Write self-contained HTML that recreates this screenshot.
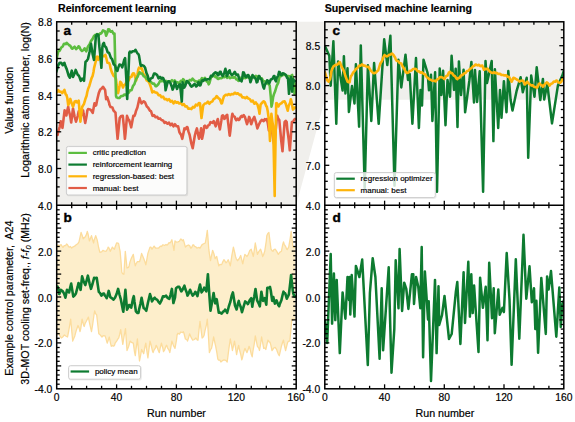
<!DOCTYPE html><html><head><meta charset="utf-8"><style>html,body{margin:0;padding:0;background:#fff;}svg{display:block;}text{font-family:"Liberation Sans",sans-serif;fill:#000;stroke:#000;stroke-width:0.18px;}</style></head><body>
<svg width="575" height="422" viewBox="0 0 575 422">
<defs>
<clipPath id="ca"><rect x="56.7" y="21.8" width="239.5" height="183.39999999999998"/></clipPath>
<clipPath id="cb"><rect x="56.7" y="205.2" width="239.5" height="183.60000000000002"/></clipPath>
<clipPath id="cc"><rect x="324.8" y="21.8" width="238.99999999999994" height="183.39999999999998"/></clipPath>
<clipPath id="cd"><rect x="324.8" y="205.2" width="238.99999999999994" height="183.60000000000002"/></clipPath>
</defs>
<polygon points="56.7,21.8 563.8,21.8 563.8,99.8 324.8,99.8 296.2,205.2 56.7,205.2" fill="#f0efec"/>
<g clip-path="url(#cb)"><polygon points="55.0,246.1 57.1,246.1 58.2,245.1 59.7,245.9 60.2,245.0 61.2,244.7 62.7,247.3 63.3,247.1 64.2,245.6 65.7,245.5 66.5,244.0 67.2,244.3 68.7,246.9 69.6,247.1 70.2,246.4 71.7,248.0 72.7,247.1 74.7,246.2 75.9,245.0 77.7,243.8 79.0,241.9 81.1,232.5 82.1,235.3 83.2,238.8 85.3,236.7 86.6,234.1 87.3,231.5 88.1,234.2 89.4,240.9 91.5,235.7 92.6,239.8 93.6,243.0 94.1,240.2 95.7,235.7 97.1,239.6 97.8,243.0 98.6,247.5 99.9,252.3 101.6,251.9 103.0,250.3 104.6,251.2 106.1,251.3 107.6,248.7 108.2,247.1 109.1,248.2 110.3,251.3 112.4,247.1 113.6,248.7 114.5,249.2 115.1,247.0 116.6,243.0 118.1,243.2 118.7,244.0 119.6,248.9 120.1,251.3 121.1,262.6 121.8,272.2 122.6,273.6 123.9,274.3 125.3,251.3 127.0,268.0 128.6,267.3 129.1,265.9 130.0,261.9 131.2,258.6 133.3,254.4 134.5,262.2 135.3,265.9 136.0,263.9 137.4,261.7 139.5,261.7 140.5,258.5 141.6,253.4 143.7,258.6 145.0,262.0 145.8,264.9 146.5,261.3 147.9,253.4 150.0,247.1 151.0,247.2 152.0,249.2 154.1,246.1 155.5,248.0 157.3,248.2 158.5,248.2 160.4,246.1 161.5,246.5 163.0,244.7 163.5,245.0 164.5,245.5 166.0,244.5 166.7,245.0 167.5,244.8 169.0,242.7 169.8,243.0 170.5,242.5 171.9,239.8 174.0,250.3 175.0,240.9 176.5,242.2 178.1,241.9 179.4,241.2 180.2,239.8 180.9,238.9 182.4,240.7 183.3,239.8 183.9,241.6 185.4,247.1 186.9,245.7 188.6,245.0 189.9,246.1 190.7,248.2 191.4,248.0 192.9,244.9 193.8,245.0 194.4,246.3 195.9,246.8 196.9,248.2 198.9,247.4 200.0,248.2 201.9,244.9 203.2,244.0 205.3,243.0 206.4,236.7 207.3,230.4 207.9,237.0 208.8,249.2 209.4,253.7 210.5,260.7 212.6,250.3 213.9,253.7 215.1,258.6 216.7,256.5 218.8,265.9 219.9,264.4 221.4,264.6 222.0,263.8 222.9,261.6 224.0,259.7 226.1,262.8 227.3,261.3 228.2,259.7 228.8,261.2 230.3,265.9 231.8,255.9 233.4,247.1 234.8,253.0 235.5,256.5 236.3,258.8 237.6,260.7 239.3,258.5 240.7,255.5 242.3,262.2 242.8,263.8 243.8,258.6 244.9,254.4 247.0,256.5 248.3,254.3 249.1,252.3 249.8,250.5 251.2,249.2 253.3,256.5 254.3,250.2 255.3,243.0 257.4,254.4 258.8,251.6 260.6,249.2 261.8,253.0 262.7,256.5 263.3,255.5 264.7,251.3 266.3,240.8 266.8,235.7 267.8,233.4 268.9,232.5 271.0,249.2 272.3,251.0 273.1,251.3 273.8,249.7 275.2,249.2 276.7,251.4 278.3,254.4 279.7,252.4 281.4,251.3 282.7,244.6 283.5,241.9 284.2,244.3 285.7,246.7 286.7,249.2 287.2,249.6 288.7,247.1 290.2,238.3 291.2,231.5 292.9,247.1 295.0,247.1 295.0,319.2 293.2,319.7 291.9,319.2 289.8,341.1 288.7,341.1 287.7,342.2 285.6,350.5 284.2,344.5 283.5,340.1 282.7,342.0 281.4,346.3 279.3,355.7 278.2,353.8 277.3,351.6 276.7,349.6 275.2,347.4 273.8,348.0 272.0,350.5 270.8,344.9 270.0,342.2 269.3,342.0 267.9,340.1 265.8,349.5 264.8,348.0 263.7,348.4 261.6,337.0 260.3,346.0 259.5,350.5 258.8,348.1 257.4,346.3 255.3,335.9 254.3,343.6 252.8,352.0 252.2,356.8 251.3,354.3 249.8,348.2 249.1,346.3 248.3,349.1 247.0,352.6 244.9,348.4 243.8,351.8 242.3,358.3 241.8,359.9 240.8,354.7 239.3,349.0 238.7,345.3 237.8,348.5 236.6,354.7 234.5,341.1 233.3,346.6 232.4,350.5 231.8,346.7 230.3,339.0 228.8,349.3 227.2,362.0 225.8,360.4 224.0,359.9 222.9,360.3 220.9,362.0 219.9,360.1 218.4,360.0 217.8,358.9 216.9,352.8 215.7,346.3 213.6,337.0 212.4,344.2 211.5,348.4 210.9,349.1 209.4,352.6 207.9,327.2 207.3,319.2 206.4,324.9 204.9,331.2 204.2,334.9 203.4,336.8 202.1,338.0 200.0,321.3 198.9,330.7 198.0,340.1 197.4,340.2 195.9,338.0 194.4,339.5 192.7,340.1 191.4,337.9 189.6,333.8 188.4,338.3 187.5,341.1 186.9,339.8 185.4,339.0 183.9,333.0 183.3,331.7 182.4,332.6 180.9,332.0 180.2,332.8 179.4,334.1 177.9,333.3 177.1,334.9 176.5,340.0 175.0,348.4 173.5,345.6 171.9,341.1 170.5,349.2 169.8,352.6 169.0,350.1 167.5,347.8 166.7,345.3 166.0,345.9 164.5,350.2 163.5,351.6 163.0,348.8 161.4,343.2 160.0,348.9 159.3,352.6 158.5,351.0 157.0,346.8 156.2,345.3 155.5,347.8 154.0,350.1 153.1,352.6 152.5,351.2 151.0,344.5 150.0,341.1 147.9,357.8 146.5,348.7 145.8,343.2 145.0,346.4 143.7,353.7 141.6,349.5 140.5,355.8 139.5,361.0 137.4,339.0 136.0,349.3 135.3,355.7 134.5,351.9 133.3,343.2 131.5,342.4 130.1,341.1 128.6,346.5 127.0,350.5 125.5,328.6 124.1,336.2 122.8,344.3 120.7,329.7 119.6,334.7 118.7,338.0 118.1,338.6 116.6,341.1 115.1,343.2 114.5,345.3 113.6,346.2 112.1,345.6 111.3,346.3 110.6,343.7 109.3,337.0 107.2,343.2 106.1,339.1 105.1,335.9 103.1,335.7 102.0,337.0 100.1,334.8 98.8,333.8 96.7,315.0 95.6,313.7 94.7,310.9 94.1,314.0 92.6,325.0 91.5,331.7 89.6,323.3 88.4,317.1 86.3,321.3 85.1,323.4 84.2,326.5 83.6,325.2 82.1,319.2 80.7,328.8 80.0,331.7 79.2,328.3 78.0,325.5 76.2,330.6 74.8,335.9 72.7,341.1 71.7,330.4 70.7,319.2 68.7,331.0 67.5,337.0 65.7,336.0 64.4,334.9 62.7,337.0 61.3,338.0 59.7,335.6 59.2,333.8 58.2,333.4 56.7,335.3 56.0,334.9 55.0,334.9" fill="#fdeecb" stroke="none"/>
<polyline points="55.0,246.1 57.1,246.1 58.2,245.1 59.7,245.9 60.2,245.0 61.2,244.7 62.7,247.3 63.3,247.1 64.2,245.6 65.7,245.5 66.5,244.0 67.2,244.3 68.7,246.9 69.6,247.1 70.2,246.4 71.7,248.0 72.7,247.1 74.7,246.2 75.9,245.0 77.7,243.8 79.0,241.9 81.1,232.5 82.1,235.3 83.2,238.8 85.3,236.7 86.6,234.1 87.3,231.5 88.1,234.2 89.4,240.9 91.5,235.7 92.6,239.8 93.6,243.0 94.1,240.2 95.7,235.7 97.1,239.6 97.8,243.0 98.6,247.5 99.9,252.3 101.6,251.9 103.0,250.3 104.6,251.2 106.1,251.3 107.6,248.7 108.2,247.1 109.1,248.2 110.3,251.3 112.4,247.1 113.6,248.7 114.5,249.2 115.1,247.0 116.6,243.0 118.1,243.2 118.7,244.0 119.6,248.9 120.1,251.3 121.1,262.6 121.8,272.2 122.6,273.6 123.9,274.3 125.3,251.3 127.0,268.0 128.6,267.3 129.1,265.9 130.0,261.9 131.2,258.6 133.3,254.4 134.5,262.2 135.3,265.9 136.0,263.9 137.4,261.7 139.5,261.7 140.5,258.5 141.6,253.4 143.7,258.6 145.0,262.0 145.8,264.9 146.5,261.3 147.9,253.4 150.0,247.1 151.0,247.2 152.0,249.2 154.1,246.1 155.5,248.0 157.3,248.2 158.5,248.2 160.4,246.1 161.5,246.5 163.0,244.7 163.5,245.0 164.5,245.5 166.0,244.5 166.7,245.0 167.5,244.8 169.0,242.7 169.8,243.0 170.5,242.5 171.9,239.8 174.0,250.3 175.0,240.9 176.5,242.2 178.1,241.9 179.4,241.2 180.2,239.8 180.9,238.9 182.4,240.7 183.3,239.8 183.9,241.6 185.4,247.1 186.9,245.7 188.6,245.0 189.9,246.1 190.7,248.2 191.4,248.0 192.9,244.9 193.8,245.0 194.4,246.3 195.9,246.8 196.9,248.2 198.9,247.4 200.0,248.2 201.9,244.9 203.2,244.0 205.3,243.0 206.4,236.7 207.3,230.4 207.9,237.0 208.8,249.2 209.4,253.7 210.5,260.7 212.6,250.3 213.9,253.7 215.1,258.6 216.7,256.5 218.8,265.9 219.9,264.4 221.4,264.6 222.0,263.8 222.9,261.6 224.0,259.7 226.1,262.8 227.3,261.3 228.2,259.7 228.8,261.2 230.3,265.9 231.8,255.9 233.4,247.1 234.8,253.0 235.5,256.5 236.3,258.8 237.6,260.7 239.3,258.5 240.7,255.5 242.3,262.2 242.8,263.8 243.8,258.6 244.9,254.4 247.0,256.5 248.3,254.3 249.1,252.3 249.8,250.5 251.2,249.2 253.3,256.5 254.3,250.2 255.3,243.0 257.4,254.4 258.8,251.6 260.6,249.2 261.8,253.0 262.7,256.5 263.3,255.5 264.7,251.3 266.3,240.8 266.8,235.7 267.8,233.4 268.9,232.5 271.0,249.2 272.3,251.0 273.1,251.3 273.8,249.7 275.2,249.2 276.7,251.4 278.3,254.4 279.7,252.4 281.4,251.3 282.7,244.6 283.5,241.9 284.2,244.3 285.7,246.7 286.7,249.2 287.2,249.6 288.7,247.1 290.2,238.3 291.2,231.5 292.9,247.1 295.0,247.1" fill="none" stroke="#fcdc9c" stroke-width="1.3" stroke-linejoin="round" stroke-linecap="round" />
<polyline points="55.0,334.9 56.0,334.9 56.7,335.3 58.2,333.4 59.2,333.8 59.7,335.6 61.3,338.0 62.7,337.0 64.4,334.9 65.7,336.0 67.5,337.0 68.7,331.0 70.7,319.2 71.7,330.4 72.7,341.1 74.8,335.9 76.2,330.6 78.0,325.5 79.2,328.3 80.0,331.7 80.7,328.8 82.1,319.2 83.6,325.2 84.2,326.5 85.1,323.4 86.3,321.3 88.4,317.1 89.6,323.3 91.5,331.7 92.6,325.0 94.1,314.0 94.7,310.9 95.6,313.7 96.7,315.0 98.8,333.8 100.1,334.8 102.0,337.0 103.1,335.7 105.1,335.9 106.1,339.1 107.2,343.2 109.3,337.0 110.6,343.7 111.3,346.3 112.1,345.6 113.6,346.2 114.5,345.3 115.1,343.2 116.6,341.1 118.1,338.6 118.7,338.0 119.6,334.7 120.7,329.7 122.8,344.3 124.1,336.2 125.5,328.6 127.0,350.5 128.6,346.5 130.1,341.1 131.5,342.4 133.3,343.2 134.5,351.9 135.3,355.7 136.0,349.3 137.4,339.0 139.5,361.0 140.5,355.8 141.6,349.5 143.7,353.7 145.0,346.4 145.8,343.2 146.5,348.7 147.9,357.8 150.0,341.1 151.0,344.5 152.5,351.2 153.1,352.6 154.0,350.1 155.5,347.8 156.2,345.3 157.0,346.8 158.5,351.0 159.3,352.6 160.0,348.9 161.4,343.2 163.0,348.8 163.5,351.6 164.5,350.2 166.0,345.9 166.7,345.3 167.5,347.8 169.0,350.1 169.8,352.6 170.5,349.2 171.9,341.1 173.5,345.6 175.0,348.4 176.5,340.0 177.1,334.9 177.9,333.3 179.4,334.1 180.2,332.8 180.9,332.0 182.4,332.6 183.3,331.7 183.9,333.0 185.4,339.0 186.9,339.8 187.5,341.1 188.4,338.3 189.6,333.8 191.4,337.9 192.7,340.1 194.4,339.5 195.9,338.0 197.4,340.2 198.0,340.1 198.9,330.7 200.0,321.3 202.1,338.0 203.4,336.8 204.2,334.9 204.9,331.2 206.4,324.9 207.3,319.2 207.9,327.2 209.4,352.6 210.9,349.1 211.5,348.4 212.4,344.2 213.6,337.0 215.7,346.3 216.9,352.8 217.8,358.9 218.4,360.0 219.9,360.1 220.9,362.0 222.9,360.3 224.0,359.9 225.8,360.4 227.2,362.0 228.8,349.3 230.3,339.0 231.8,346.7 232.4,350.5 233.3,346.6 234.5,341.1 236.6,354.7 237.8,348.5 238.7,345.3 239.3,349.0 240.8,354.7 241.8,359.9 242.3,358.3 243.8,351.8 244.9,348.4 247.0,352.6 248.3,349.1 249.1,346.3 249.8,348.2 251.3,354.3 252.2,356.8 252.8,352.0 254.3,343.6 255.3,335.9 257.4,346.3 258.8,348.1 259.5,350.5 260.3,346.0 261.6,337.0 263.7,348.4 264.8,348.0 265.8,349.5 267.9,340.1 269.3,342.0 270.0,342.2 270.8,344.9 272.0,350.5 273.8,348.0 275.2,347.4 276.7,349.6 277.3,351.6 278.2,353.8 279.3,355.7 281.4,346.3 282.7,342.0 283.5,340.1 284.2,344.5 285.6,350.5 287.7,342.2 288.7,341.1 289.8,341.1 291.9,319.2 293.2,319.7 295.0,319.2" fill="none" stroke="#fcdc9c" stroke-width="1.3" stroke-linejoin="round" stroke-linecap="round" />
<polyline points="55.0,289.8 56.7,288.2 57.6,286.7 58.2,288.8 59.2,294.0 59.7,293.2 60.7,289.8 62.8,291.4 64.2,293.9 65.4,297.7 67.0,289.8 69.1,292.4 70.2,287.5 71.2,283.6 73.3,296.6 74.7,295.3 75.9,293.5 77.7,286.7 78.5,283.0 79.2,284.9 80.6,289.8 82.1,276.3 83.6,281.2 85.3,285.1 86.6,280.5 87.9,275.7 89.6,283.6 91.0,288.8 92.6,283.5 94.1,277.8 95.6,278.2 96.7,277.8 98.8,291.9 100.1,293.2 101.4,295.6 103.1,293.5 104.0,293.5 104.6,295.1 106.1,296.9 106.7,298.2 107.6,295.3 108.7,290.9 110.3,297.1 112.1,298.3 113.4,299.7 115.0,297.7 116.6,294.0 118.1,288.9 119.6,295.0 120.7,298.8 122.6,308.6 123.3,311.8 124.1,303.6 125.4,289.9 127.0,309.7 128.6,306.9 129.1,305.0 130.0,305.5 131.2,307.7 133.0,298.7 133.8,296.2 134.5,302.0 135.9,311.3 137.5,313.0 138.5,312.9 139.0,309.7 140.5,303.6 141.6,297.7 143.7,308.2 145.0,308.9 146.3,310.8 148.0,302.5 150.0,294.1 151.0,297.3 152.0,301.4 154.0,298.2 154.7,297.7 155.5,298.8 157.3,299.8 158.5,301.9 159.9,303.5 161.5,300.4 163.0,296.2 164.5,296.6 166.1,295.7 167.5,297.8 169.3,298.8 170.5,294.8 171.9,288.9 173.4,303.0 175.0,297.7 176.0,288.3 177.9,286.8 179.2,286.7 181.3,291.4 182.4,289.9 184.4,285.7 185.4,289.3 186.9,293.1 187.5,295.6 188.4,294.1 190.1,289.8 191.4,293.0 192.7,295.6 194.4,293.6 195.3,291.9 195.9,292.5 197.4,296.1 198.9,289.2 200.0,284.6 201.6,292.4 203.4,289.7 204.2,287.7 204.9,288.3 206.3,291.4 207.9,274.2 209.4,295.8 210.5,310.7 212.4,300.2 213.6,293.0 215.2,303.4 216.7,299.2 218.8,312.8 219.9,312.4 221.4,313.6 222.0,313.3 222.9,311.9 224.4,310.9 225.1,309.7 225.8,310.4 227.2,312.8 228.8,306.5 229.8,303.4 230.3,302.0 231.8,295.4 232.9,292.4 235.0,305.5 236.6,309.5 237.8,304.2 238.8,300.9 239.3,303.4 240.8,307.3 242.0,312.2 243.8,305.9 245.2,301.4 246.8,302.7 247.9,304.1 249.8,300.0 251.2,298.2 252.3,306.8 252.8,303.1 254.3,296.2 255.5,289.0 257.1,300.3 258.8,303.7 259.8,306.3 261.4,291.7 263.0,300.9 264.7,298.2 266.3,304.7 267.3,287.9 269.3,287.6 270.0,286.9 270.8,290.8 272.2,300.9 273.3,297.1 274.9,303.6 276.5,300.3 278.2,304.9 279.2,306.3 279.7,304.1 281.4,300.3 282.7,294.5 283.5,291.7 284.2,293.1 285.1,293.3 285.7,294.8 286.8,298.7 288.9,294.4 290.2,283.3 291.1,275.0 291.7,280.7 292.7,290.1 293.2,293.0 294.3,296.6 296.2,296.4 297.0,295.5" fill="none" stroke="#0d7b30" stroke-width="2.6" stroke-linejoin="round" stroke-linecap="round" /></g>
<g clip-path="url(#ca)">
<polyline points="57.6,135.0 58.2,131.9 59.7,126.8 60.7,121.2 62.5,127.8 64.6,110.3 65.7,114.4 66.4,115.5 67.2,110.7 68.2,106.8 68.7,110.1 70.2,116.0 71.2,122.5 73.0,108.5 74.7,117.0 76.0,121.7 77.7,116.1 78.7,111.2 80.7,115.4 81.3,115.5 82.1,112.4 83.1,110.3 83.6,114.1 85.2,123.0 86.6,115.7 87.4,110.3 88.1,109.0 90.1,109.4 91.1,110.3 92.7,112.9 94.5,103.3 95.6,105.6 96.2,105.0 97.1,100.2 98.8,93.0 100.1,89.8 100.9,88.9 101.6,88.6 103.0,86.8 105.1,89.9 106.1,99.2 107.2,97.2 109.3,103.5 109.3,104.4 110.6,107.1 112.4,107.5 113.6,110.7 115.5,112.7 116.6,127.2 117.6,138.8 119.7,118.0 121.1,116.0 122.8,115.9 124.1,129.0 124.9,138.8 125.6,132.5 127.0,115.9 128.6,119.9 129.1,120.0 130.0,122.9 131.2,127.3 133.3,115.9 134.5,115.9 135.3,113.8 136.0,110.9 137.4,107.5 139.5,98.1 140.5,101.2 141.6,103.3 143.7,101.3 145.0,102.2 146.8,106.5 148.0,107.5 150.0,110.7 151.0,111.1 152.5,115.8 153.1,115.9 154.0,115.1 155.5,117.2 157.3,116.9 158.5,118.7 160.0,118.4 161.4,120.0 163.0,120.4 164.5,122.8 165.6,122.1 167.5,123.7 169.0,122.6 169.8,124.2 170.5,125.1 172.0,123.6 172.9,125.3 173.5,126.3 175.0,124.2 176.5,126.3 178.1,126.3 179.4,132.1 180.2,133.6 180.9,134.4 182.3,138.8 184.4,128.4 185.4,129.2 186.9,127.0 187.5,127.3 188.4,131.4 189.6,134.7 191.4,143.7 192.7,148.2 194.8,135.7 195.9,131.3 196.9,128.4 199.0,138.8 200.4,133.1 201.1,128.4 202.1,138.8 203.4,132.5 204.2,126.3 204.9,125.7 206.4,127.8 207.3,127.3 207.9,125.6 209.4,124.8 210.5,122.1 212.4,122.9 213.6,121.1 215.7,126.3 216.9,121.4 217.8,119.0 218.4,122.4 219.9,129.4 221.4,120.3 222.0,115.9 222.9,115.3 224.4,118.9 225.1,118.0 225.8,115.9 227.2,114.8 228.8,127.8 229.7,135.7 230.3,131.3 231.8,117.1 232.4,113.8 233.3,116.0 234.8,116.8 235.5,119.0 236.3,120.2 237.8,118.7 238.7,120.0 239.3,119.7 240.8,116.6 241.8,115.9 242.3,116.8 243.8,115.2 244.9,116.9 247.0,124.2 248.3,120.4 249.1,116.9 249.8,118.4 251.2,124.2 252.8,119.7 254.3,116.9 255.8,121.8 257.4,128.4 258.8,124.8 260.6,121.1 261.8,119.9 263.7,121.1 264.8,119.2 266.3,120.2 266.8,119.0 267.8,123.1 268.9,130.5 270.8,130.0 272.0,131.5 274.1,144.0 275.2,135.3 276.7,119.2 277.3,115.9 278.2,118.6 279.3,120.0 281.2,140.3 282.5,151.3 284.6,122.1 285.7,120.8 286.7,122.1 287.2,128.3 288.7,139.5 289.8,150.3 291.9,122.1 293.2,121.7 294.0,120.0 295.0,119.0" fill="none" stroke="#e15c46" stroke-width="2.6" stroke-linejoin="round" stroke-linecap="round" />
<polyline points="55.0,93.0 57.1,92.0 58.2,90.2 59.2,91.0 59.7,91.8 61.2,91.9 62.3,93.0 64.4,89.9 65.7,94.4 66.5,95.1 67.3,98.0 68.2,105.0 68.7,104.1 70.3,98.9 71.7,103.4 73.0,106.8 74.7,101.5 76.2,101.1 76.9,102.4 77.7,102.4 78.7,100.6 80.4,121.7 82.2,106.8 83.9,104.1 85.3,99.3 86.6,95.7 87.3,92.0 88.1,89.0 89.4,85.7 91.5,78.4 92.6,76.0 93.5,72.0 94.1,67.9 95.6,62.0 96.4,56.9 97.1,56.6 98.4,59.9 100.1,55.5 100.9,54.9 101.6,56.4 103.4,55.9 104.6,56.3 105.4,54.9 106.1,57.2 107.4,62.8 109.1,63.0 109.9,64.8 110.6,68.5 111.8,72.2 113.6,75.8 115.1,77.1 116.0,79.1 116.6,84.3 118.1,93.1 119.6,86.0 120.2,81.9 121.1,82.5 123.0,87.5 124.1,85.0 125.1,84.7 127.1,81.1 128.6,80.5 130.0,77.2 131.5,76.8 132.0,75.0 133.0,73.3 134.1,73.6 136.2,80.5 137.5,74.3 138.3,69.4 139.0,67.6 140.5,68.4 141.1,67.3 142.0,68.8 143.2,73.6 145.0,75.9 146.7,80.5 148.0,80.8 149.5,83.3 151.0,87.6 152.3,92.4 154.0,91.3 155.1,92.4 157.0,92.7 158.5,95.2 159.3,95.2 160.0,95.1 161.5,97.2 163.0,96.6 163.5,97.3 164.5,99.1 166.3,99.0 167.5,100.3 169.0,99.2 169.8,100.3 170.5,101.6 172.0,100.8 172.9,102.4 173.5,103.4 175.0,101.4 176.5,102.8 177.9,102.1 179.2,103.5 180.9,103.0 182.4,105.0 183.3,104.5 183.9,104.1 185.4,106.5 186.9,106.3 188.4,108.8 189.6,108.6 191.4,109.1 192.9,106.9 193.8,107.5 194.4,107.5 195.9,104.6 197.4,105.5 198.0,104.4 198.9,103.1 200.0,103.3 201.5,118.0 203.2,105.4 204.9,103.5 206.3,103.3 207.9,101.7 209.4,103.8 210.5,102.3 212.4,101.3 213.6,99.2 215.4,98.2 216.7,96.0 218.4,98.1 219.9,99.2 221.4,103.4 222.0,103.3 222.9,99.7 224.0,96.2 225.8,94.7 227.2,95.1 228.8,94.0 230.3,95.0 231.3,94.1 233.3,94.3 234.8,92.7 235.5,93.0 236.3,93.9 237.8,93.3 239.7,95.1 240.8,94.6 242.3,97.4 243.9,97.2 245.3,98.2 246.8,96.9 248.0,98.3 249.8,99.1 251.3,101.5 252.2,101.4 252.8,100.5 254.3,103.7 255.8,102.4 256.4,103.5 257.4,104.4 258.8,109.3 259.5,113.8 260.6,104.5 261.6,103.3 263.7,101.3 264.8,102.2 266.3,106.4 266.8,106.5 267.8,111.6 268.9,120.0 270.0,140.9 270.8,124.8 271.4,113.8 272.3,121.1 273.1,126.3 273.8,154.2 274.7,196.0 274.8,183.1 276.2,103.3 276.7,103.1 278.3,106.5 279.7,104.1 281.4,103.3 282.7,101.8 284.6,101.3 285.7,103.6 287.7,110.7 288.7,105.8 290.2,102.4 290.8,99.2 291.7,102.4 292.9,109.6 295.0,107.5" fill="none" stroke="#feb40a" stroke-width="2.6" stroke-linejoin="round" stroke-linecap="round" />
<polyline points="56.4,60.8 57.3,55.3 58.2,51.9 58.9,50.7 59.7,50.6 61.3,47.5 62.7,46.5 63.6,44.4 64.2,43.7 65.7,44.1 66.7,42.8 69.1,45.2 70.2,45.7 71.7,48.4 72.6,48.7 73.2,47.7 74.6,46.7 76.1,49.1 77.7,47.7 78.5,46.3 79.2,46.6 80.7,49.7 82.0,51.0 83.6,50.0 84.7,48.3 86.3,51.4 87.9,46.7 89.6,44.1 90.2,42.8 91.1,40.9 92.6,38.9 94.1,35.7 94.7,35.7 94.9,35.0 95.6,35.5 97.1,34.0 97.8,34.6 98.6,35.1 100.1,33.3 100.9,33.6 101.6,32.9 103.0,30.4 105.1,31.5 106.1,35.7 107.6,32.1 108.2,29.4 109.1,29.3 110.6,31.7 111.3,31.5 112.1,31.2 113.6,33.9 114.5,33.6 115.1,58.1 116.0,95.9 116.6,97.4 118.1,98.0 119.6,97.9 121.1,96.0 123.0,95.9 124.1,94.6 125.6,95.1 127.2,93.8 128.6,92.8 130.0,90.3 131.5,90.2 132.0,88.9 133.0,86.0 134.5,83.9 136.0,79.1 136.9,77.7 137.5,77.0 139.0,73.2 139.7,72.2 140.5,73.5 142.0,73.6 143.9,76.4 145.0,76.8 146.5,78.8 148.0,79.2 149.5,81.1 150.9,81.9 152.5,83.6 154.0,83.5 155.5,86.2 156.5,86.1 158.5,84.0 160.0,81.0 160.7,80.5 161.5,81.2 163.0,80.5 164.5,82.1 166.0,80.9 167.7,81.9 169.0,81.2 170.5,81.8 172.0,80.2 173.5,81.6 174.7,80.5 176.5,82.6 177.9,82.3 179.2,83.7 180.0,82.3 180.9,80.7 182.4,80.9 183.1,79.2 183.9,79.8 185.7,83.4 186.9,81.5 188.3,81.3 189.9,79.9 191.4,80.4 192.5,78.7 194.4,80.6 195.7,81.3 197.4,81.9 198.3,81.3 198.9,80.6 200.4,80.8 201.9,78.2 202.4,78.7 203.4,79.7 204.9,77.8 205.6,78.7 206.4,81.2 207.9,82.3 208.7,84.4 209.4,83.2 211.3,76.1 212.4,76.6 213.9,74.7 214.4,75.0 215.4,77.1 216.9,77.3 217.6,78.7 218.4,79.0 219.9,78.1 221.7,78.2 222.9,77.0 224.4,77.3 225.9,76.1 227.3,77.8 228.8,76.6 230.1,78.2 231.8,77.3 233.3,77.7 234.3,77.1 234.8,77.0 236.3,79.4 237.8,79.6 238.4,80.8 239.3,80.2 240.0,78.2 240.8,77.7 242.3,78.8 243.8,77.2 245.2,78.2 246.8,77.0 248.3,77.6 249.4,76.6 251.3,77.8 252.8,76.2 253.6,77.1 254.3,77.9 255.8,75.9 257.3,77.0 258.8,76.1 260.3,78.4 261.8,78.2 263.3,81.3 264.0,81.3 264.8,81.4 266.3,83.3 267.1,83.4 267.8,83.3 269.7,85.5 270.8,96.8 271.5,106.6 272.3,102.9 273.1,97.2 273.8,94.6 275.2,91.0 276.7,85.9 278.3,82.6 279.7,76.1 281.2,76.1 282.7,74.6 283.8,75.0 285.7,74.9 287.2,76.4 289.0,76.1 290.2,76.6 292.2,75.0 293.2,80.4 293.7,82.3 294.5,94.0 295.8,84.4 297.7,82.7 298.4,83.4" fill="none" stroke="#5cbd3f" stroke-width="2.6" stroke-linejoin="round" stroke-linecap="round" />
<polyline points="56.4,71.8 57.3,68.3 58.2,65.2 59.7,62.8 61.2,62.7 62.8,65.2 64.4,62.8 65.7,66.9 66.7,69.1 68.7,75.8 69.9,77.7 71.8,70.7 73.0,76.9 74.7,73.2 75.7,69.9 77.7,74.8 78.5,75.3 79.2,76.4 80.8,80.8 82.1,78.6 82.8,79.3 84.0,80.8 85.5,61.8 86.6,61.0 88.0,58.9 89.6,51.7 91.0,43.9 92.6,53.9 94.0,59.9 95.9,36.0 97.1,34.3 98.4,35.0 99.4,46.9 100.1,53.2 101.4,67.8 102.4,46.9 103.1,43.8 103.9,42.9 104.6,45.9 106.1,47.5 106.9,49.9 107.6,52.2 109.1,52.9 110.9,57.9 112.1,59.1 113.6,64.1 114.6,65.2 115.1,65.5 116.6,70.5 117.4,70.8 118.1,68.1 119.5,64.5 121.1,64.9 122.3,67.3 124.1,60.2 125.1,58.2 126.5,81.9 127.2,99.0 128.6,68.7 129.3,52.6 130.0,51.5 131.5,52.4 132.7,51.2 134.5,51.2 135.5,49.8 137.5,53.5 138.3,54.0 139.0,55.6 140.5,64.6 141.1,65.9 142.0,65.1 143.9,65.9 145.0,67.4 146.5,73.1 147.4,75.0 148.0,76.8 148.8,80.5 149.5,80.9 150.9,78.4 152.5,77.8 154.0,73.6 155.1,73.6 157.0,74.8 158.6,78.4 160.0,76.9 161.5,78.6 162.1,77.7 163.0,77.9 164.9,81.9 165.6,90.3 167.7,81.9 169.0,81.3 170.5,83.3 172.0,87.2 172.6,89.6 173.5,87.7 175.0,81.9 176.5,87.4 177.1,88.9 177.9,86.6 179.2,84.7 180.0,84.4 180.9,92.5 181.8,101.5 182.6,82.3 184.2,87.6 185.4,85.5 186.3,82.3 186.9,81.0 188.3,82.3 189.9,84.2 190.4,85.5 191.4,86.6 192.5,86.0 194.6,83.9 196.2,86.5 197.4,85.4 198.3,82.3 198.9,82.5 199.8,85.5 200.4,85.3 201.9,80.7 202.4,80.3 203.4,80.9 205.0,79.2 206.4,79.9 207.7,79.2 209.4,79.2 210.3,77.7 210.9,75.9 212.4,76.0 213.4,74.0 215.5,72.4 216.9,73.0 217.6,75.0 218.4,75.1 219.9,71.9 220.7,71.9 221.4,74.5 222.8,76.1 224.4,72.4 225.4,68.8 227.0,76.1 228.8,71.3 229.6,70.3 230.3,73.1 231.7,75.0 233.3,74.2 234.3,72.4 234.8,71.9 236.3,75.0 237.9,74.5 239.3,79.1 240.0,80.3 240.8,80.0 241.6,81.3 242.3,77.5 243.1,72.4 243.8,72.6 245.3,76.4 246.3,77.1 246.8,75.7 248.3,75.0 249.8,79.0 250.4,82.3 251.3,79.8 252.5,75.0 254.6,77.7 255.8,78.9 256.7,82.3 257.3,82.1 258.8,76.1 259.3,76.1 260.3,78.5 261.4,79.2 263.3,87.0 264.0,88.6 264.8,85.2 265.6,83.4 266.3,82.8 267.1,80.3 267.8,80.6 269.2,83.4 270.8,79.6 271.3,79.2 272.3,79.0 273.8,76.0 274.4,76.1 275.2,80.1 276.0,81.3 276.7,77.9 278.2,75.6 279.1,71.9 279.7,72.2 281.2,75.1 281.7,75.0 282.7,73.3 283.8,73.5 285.9,75.0 287.2,78.1 288.0,78.2 289.0,93.8 290.1,81.3 291.1,77.1 292.2,91.7 293.2,79.2 294.3,81.3 295.8,81.3 297.7,80.5 298.4,81.3" fill="none" stroke="#0d7b30" stroke-width="2.6" stroke-linejoin="round" stroke-linecap="round" />
</g>
<g clip-path="url(#cc)">
<polyline points="324.8,46.0 325.6,47.5 329.3,55.8 330.7,85.7 333.4,41.2 336.3,123.8 338.1,61.6 342.6,90.6 343.9,56.3 345.4,93.4 347.5,68.3 348.9,111.9 352.0,86.0 354.5,103.5 355.9,64.2 359.1,126.6 360.8,45.4 364.7,188.0 367.9,65.2 371.3,121.0 374.1,63.1 378.7,123.8 384.2,39.3 387.3,65.0 390.4,35.7 394.5,185.6 398.4,59.7 401.3,87.4 405.5,54.7 408.0,80.0 409.7,73.9 412.4,123.8 416.0,58.0 418.9,128.0 420.5,90.0 422.0,105.6 423.5,59.7 427.6,73.0 429.0,90.3 431.0,74.7 432.4,121.0 435.1,72.2 437.0,191.8 439.7,68.5 441.4,95.0 443.1,70.8 445.5,125.2 447.5,80.0 450.0,96.7 451.6,55.7 454.0,90.0 455.7,68.7 457.5,126.9 458.9,61.4 461.0,95.0 463.6,69.7 465.1,112.3 469.3,81.0 471.4,61.9 474.0,102.4 475.0,70.0 477.1,101.9 479.7,71.3 483.1,191.8 485.5,60.9 487.0,83.1 491.7,60.9 493.4,141.1 494.9,69.2 498.2,128.0 500.0,90.0 501.5,117.8 503.9,81.2 506.5,112.3 508.3,71.1 510.6,100.0 512.5,110.6 516.7,90.6 520.6,77.3 522.8,92.3 526.7,77.8 528.2,157.8 531.2,75.6 534.5,96.7 536.7,67.3 540.3,100.0 542.9,78.9 544.2,99.5 547.3,84.0 552.0,123.4 557.9,85.6 562.3,75.6 564.0,70.0" fill="none" stroke="#0d7b30" stroke-width="2.5" stroke-linejoin="round" stroke-linecap="round" />
<polyline points="324.8,72.0 325.8,75.3 327.2,80.2 327.8,81.0 328.6,81.6 329.3,80.3 330.0,79.5 330.8,75.2 331.4,71.2 332.3,68.6 333.5,66.3 335.6,64.9 336.8,64.8 337.7,64.2 338.3,63.4 339.8,62.1 341.2,65.6 342.8,69.0 343.3,69.8 344.3,72.1 345.4,76.0 347.5,81.6 348.8,82.3 349.6,82.3 350.2,78.8 351.0,76.0 351.7,75.3 353.1,72.6 354.7,70.8 355.9,69.1 357.7,67.7 358.7,66.3 359.2,65.6 360.7,65.7 361.5,64.9 362.2,64.4 363.7,65.7 364.3,65.6 365.2,65.8 367.1,67.0 368.2,66.7 369.2,67.7 369.7,69.0 371.3,71.2 372.7,72.6 374.0,73.3 376.1,72.6 377.2,71.1 378.2,70.5 380.3,63.5 381.7,61.6 382.4,60.0 383.2,57.5 384.5,55.1 386.6,56.5 387.7,56.1 388.7,55.1 390.7,54.4 391.5,53.7 392.2,53.6 393.6,55.1 395.2,57.7 395.7,59.3 396.7,60.7 398.5,61.4 399.6,62.9 401.3,63.5 402.6,66.5 403.4,67.6 404.1,68.5 405.6,71.8 406.8,73.0 408.6,72.4 409.7,71.0 411.6,70.4 413.1,69.0 414.7,68.9 416.1,69.1 417.6,71.2 418.9,71.4 420.6,72.6 422.1,72.4 423.9,73.9 425.1,74.5 426.6,76.9 428.0,78.0 429.6,79.5 431.4,80.1 432.6,80.8 434.1,80.7 435.6,81.4 437.1,79.5 438.6,78.7 439.7,77.2 441.1,77.0 443.1,77.9 444.3,79.1 446.0,76.3 447.5,75.6 449.0,72.3 450.0,71.8 450.5,73.0 452.0,73.1 453.7,75.5 455.0,76.2 456.5,78.7 457.3,79.1 458.0,78.2 459.5,77.7 461.0,75.4 462.0,75.0 462.5,75.2 464.0,73.4 465.5,73.0 467.0,71.0 468.3,70.8 470.0,68.9 471.4,68.2 473.0,66.2 474.5,65.7 475.6,64.5 477.5,65.4 479.0,64.8 479.7,65.6 480.5,66.1 482.3,65.6 483.9,69.7 485.0,68.7 486.5,69.3 487.6,68.7 489.5,71.3 490.7,72.3 492.5,72.9 494.4,72.3 495.4,73.2 496.9,72.8 498.0,73.9 500.0,73.9 501.4,74.9 503.3,75.0 504.4,75.5 505.9,75.2 506.7,75.6 507.4,76.7 508.9,76.7 510.4,79.7 511.7,81.7 513.4,77.8 514.9,78.3 516.7,79.5 517.9,80.1 519.5,81.7 520.9,80.7 522.8,80.6 523.9,81.9 525.0,84.5 527.3,81.7 528.4,83.3 530.0,84.5 531.4,85.6 532.9,85.3 533.4,86.2 534.4,87.0 535.9,87.0 536.7,87.8 537.4,87.3 538.9,83.9 539.5,83.4 540.4,84.5 541.9,85.4 542.9,86.7 544.8,84.2 546.7,82.3 547.8,83.1 549.5,85.6 550.8,84.0 552.3,83.4 553.8,81.6 555.3,81.8 556.2,80.6 556.8,80.6 558.3,82.4 560.1,82.8 561.3,81.7 562.3,79.5 562.8,78.7 564.0,78.0" fill="none" stroke="#feb40a" stroke-width="2.6" stroke-linejoin="round" stroke-linecap="round" />
</g>
<g clip-path="url(#cd)">
<polyline points="324.8,320.0 327.2,343.0 330.7,254.0 332.1,323.6 333.9,273.6 335.3,320.1 336.7,279.9 339.8,353.1 342.6,292.4 345.4,318.7 347.5,277.0 349.0,300.0 349.6,277.0 350.3,314.5 351.7,275.0 354.5,316.6 355.9,265.9 359.4,277.0 362.2,259.6 367.8,365.0 369.9,293.0 372.7,258.2 375.4,277.0 379.6,358.7 381.7,288.3 383.1,350.3 388.7,267.3 391.5,372.7 394.3,329.2 395.7,260.3 398.5,308.2 399.6,249.0 402.1,311.0 404.2,282.7 406.3,289.0 408.4,308.9 411.9,274.3 413.3,274.3 414.0,304.0 416.1,277.0 418.2,286.2 420.3,308.2 421.7,247.0 423.1,357.3 424.9,271.5 428.0,319.4 428.7,301.2 431.0,381.0 435.0,279.9 436.6,353.1 438.5,286.2 439.2,325.0 442.0,315.2 444.5,296.0 449.0,339.0 451.7,334.0 455.9,291.4 457.3,282.0 460.4,344.0 463.6,272.2 465.0,322.9 468.3,261.7 469.9,316.6 471.3,274.3 472.7,313.1 474.1,285.5 478.5,352.0 480.1,277.7 482.9,307.8 485.7,286.8 487.5,340.2 489.2,262.8 492.0,318.3 493.7,288.2 494.8,333.2 498.3,289.6 499.7,314.8 502.5,307.8 503.9,312.0 506.7,253.0 509.5,299.4 511.6,364.7 515.8,259.3 519.3,338.8 523.5,234.8 526.3,298.7 529.5,266.3 531.8,302.2 534.0,288.2 535.3,329.0 536.4,300.7 538.1,352.8 541.3,277.9 545.8,333.9 547.1,276.4 548.6,289.6 551.0,271.1 556.3,336.7 559.3,287.6 560.8,327.0 562.2,304.6 564.0,300.0" fill="none" stroke="#0d7b30" stroke-width="2.5" stroke-linejoin="round" stroke-linecap="round" />
</g>
<g stroke="#000" stroke-width="1.3"><line x1="56.7" y1="196.0" x2="59.7" y2="196.0"/><line x1="296.2" y1="196.0" x2="293.2" y2="196.0"/><line x1="56.7" y1="186.9" x2="59.7" y2="186.9"/><line x1="296.2" y1="186.9" x2="293.2" y2="186.9"/><line x1="56.7" y1="177.7" x2="59.7" y2="177.7"/><line x1="296.2" y1="177.7" x2="293.2" y2="177.7"/><line x1="56.7" y1="168.5" x2="61.2" y2="168.5"/><line x1="296.2" y1="168.5" x2="291.7" y2="168.5"/><line x1="56.7" y1="159.3" x2="59.7" y2="159.3"/><line x1="296.2" y1="159.3" x2="293.2" y2="159.3"/><line x1="56.7" y1="150.2" x2="59.7" y2="150.2"/><line x1="296.2" y1="150.2" x2="293.2" y2="150.2"/><line x1="56.7" y1="141.0" x2="59.7" y2="141.0"/><line x1="296.2" y1="141.0" x2="293.2" y2="141.0"/><line x1="56.7" y1="131.8" x2="61.2" y2="131.8"/><line x1="296.2" y1="131.8" x2="291.7" y2="131.8"/><line x1="56.7" y1="122.7" x2="59.7" y2="122.7"/><line x1="296.2" y1="122.7" x2="293.2" y2="122.7"/><line x1="56.7" y1="113.5" x2="59.7" y2="113.5"/><line x1="296.2" y1="113.5" x2="293.2" y2="113.5"/><line x1="56.7" y1="104.3" x2="59.7" y2="104.3"/><line x1="296.2" y1="104.3" x2="293.2" y2="104.3"/><line x1="56.7" y1="95.2" x2="61.2" y2="95.2"/><line x1="296.2" y1="95.2" x2="291.7" y2="95.2"/><line x1="56.7" y1="86.0" x2="59.7" y2="86.0"/><line x1="296.2" y1="86.0" x2="293.2" y2="86.0"/><line x1="56.7" y1="76.8" x2="59.7" y2="76.8"/><line x1="296.2" y1="76.8" x2="293.2" y2="76.8"/><line x1="56.7" y1="67.6" x2="59.7" y2="67.6"/><line x1="296.2" y1="67.6" x2="293.2" y2="67.6"/><line x1="56.7" y1="58.5" x2="61.2" y2="58.5"/><line x1="296.2" y1="58.5" x2="291.7" y2="58.5"/><line x1="56.7" y1="49.3" x2="59.7" y2="49.3"/><line x1="296.2" y1="49.3" x2="293.2" y2="49.3"/><line x1="56.7" y1="40.1" x2="59.7" y2="40.1"/><line x1="296.2" y1="40.1" x2="293.2" y2="40.1"/><line x1="56.7" y1="31.0" x2="59.7" y2="31.0"/><line x1="296.2" y1="31.0" x2="293.2" y2="31.0"/><line x1="56.7" y1="384.2" x2="59.7" y2="384.2"/><line x1="296.2" y1="384.2" x2="293.2" y2="384.2"/><line x1="56.7" y1="379.6" x2="59.7" y2="379.6"/><line x1="296.2" y1="379.6" x2="293.2" y2="379.6"/><line x1="56.7" y1="375.0" x2="59.7" y2="375.0"/><line x1="296.2" y1="375.0" x2="293.2" y2="375.0"/><line x1="56.7" y1="370.4" x2="59.7" y2="370.4"/><line x1="296.2" y1="370.4" x2="293.2" y2="370.4"/><line x1="56.7" y1="365.9" x2="61.2" y2="365.9"/><line x1="296.2" y1="365.9" x2="291.7" y2="365.9"/><line x1="56.7" y1="361.3" x2="59.7" y2="361.3"/><line x1="296.2" y1="361.3" x2="293.2" y2="361.3"/><line x1="56.7" y1="356.7" x2="59.7" y2="356.7"/><line x1="296.2" y1="356.7" x2="293.2" y2="356.7"/><line x1="56.7" y1="352.1" x2="59.7" y2="352.1"/><line x1="296.2" y1="352.1" x2="293.2" y2="352.1"/><line x1="56.7" y1="347.5" x2="59.7" y2="347.5"/><line x1="296.2" y1="347.5" x2="293.2" y2="347.5"/><line x1="56.7" y1="342.9" x2="61.2" y2="342.9"/><line x1="296.2" y1="342.9" x2="291.7" y2="342.9"/><line x1="56.7" y1="338.3" x2="59.7" y2="338.3"/><line x1="296.2" y1="338.3" x2="293.2" y2="338.3"/><line x1="56.7" y1="333.7" x2="59.7" y2="333.7"/><line x1="296.2" y1="333.7" x2="293.2" y2="333.7"/><line x1="56.7" y1="329.1" x2="59.7" y2="329.1"/><line x1="296.2" y1="329.1" x2="293.2" y2="329.1"/><line x1="56.7" y1="324.5" x2="59.7" y2="324.5"/><line x1="296.2" y1="324.5" x2="293.2" y2="324.5"/><line x1="56.7" y1="319.9" x2="61.2" y2="319.9"/><line x1="296.2" y1="319.9" x2="291.7" y2="319.9"/><line x1="56.7" y1="315.4" x2="59.7" y2="315.4"/><line x1="296.2" y1="315.4" x2="293.2" y2="315.4"/><line x1="56.7" y1="310.8" x2="59.7" y2="310.8"/><line x1="296.2" y1="310.8" x2="293.2" y2="310.8"/><line x1="56.7" y1="306.2" x2="59.7" y2="306.2"/><line x1="296.2" y1="306.2" x2="293.2" y2="306.2"/><line x1="56.7" y1="301.6" x2="59.7" y2="301.6"/><line x1="296.2" y1="301.6" x2="293.2" y2="301.6"/><line x1="56.7" y1="297.0" x2="61.2" y2="297.0"/><line x1="296.2" y1="297.0" x2="291.7" y2="297.0"/><line x1="56.7" y1="292.4" x2="59.7" y2="292.4"/><line x1="296.2" y1="292.4" x2="293.2" y2="292.4"/><line x1="56.7" y1="287.8" x2="59.7" y2="287.8"/><line x1="296.2" y1="287.8" x2="293.2" y2="287.8"/><line x1="56.7" y1="283.2" x2="59.7" y2="283.2"/><line x1="296.2" y1="283.2" x2="293.2" y2="283.2"/><line x1="56.7" y1="278.6" x2="59.7" y2="278.6"/><line x1="296.2" y1="278.6" x2="293.2" y2="278.6"/><line x1="56.7" y1="274.1" x2="61.2" y2="274.1"/><line x1="296.2" y1="274.1" x2="291.7" y2="274.1"/><line x1="56.7" y1="269.5" x2="59.7" y2="269.5"/><line x1="296.2" y1="269.5" x2="293.2" y2="269.5"/><line x1="56.7" y1="264.9" x2="59.7" y2="264.9"/><line x1="296.2" y1="264.9" x2="293.2" y2="264.9"/><line x1="56.7" y1="260.3" x2="59.7" y2="260.3"/><line x1="296.2" y1="260.3" x2="293.2" y2="260.3"/><line x1="56.7" y1="255.7" x2="59.7" y2="255.7"/><line x1="296.2" y1="255.7" x2="293.2" y2="255.7"/><line x1="56.7" y1="251.1" x2="61.2" y2="251.1"/><line x1="296.2" y1="251.1" x2="291.7" y2="251.1"/><line x1="56.7" y1="246.5" x2="59.7" y2="246.5"/><line x1="296.2" y1="246.5" x2="293.2" y2="246.5"/><line x1="56.7" y1="241.9" x2="59.7" y2="241.9"/><line x1="296.2" y1="241.9" x2="293.2" y2="241.9"/><line x1="56.7" y1="237.3" x2="59.7" y2="237.3"/><line x1="296.2" y1="237.3" x2="293.2" y2="237.3"/><line x1="56.7" y1="232.7" x2="59.7" y2="232.7"/><line x1="296.2" y1="232.7" x2="293.2" y2="232.7"/><line x1="56.7" y1="228.1" x2="61.2" y2="228.1"/><line x1="296.2" y1="228.1" x2="291.7" y2="228.1"/><line x1="56.7" y1="223.6" x2="59.7" y2="223.6"/><line x1="296.2" y1="223.6" x2="293.2" y2="223.6"/><line x1="56.7" y1="219.0" x2="59.7" y2="219.0"/><line x1="296.2" y1="219.0" x2="293.2" y2="219.0"/><line x1="56.7" y1="214.4" x2="59.7" y2="214.4"/><line x1="296.2" y1="214.4" x2="293.2" y2="214.4"/><line x1="56.7" y1="209.8" x2="59.7" y2="209.8"/><line x1="296.2" y1="209.8" x2="293.2" y2="209.8"/><line x1="324.8" y1="197.2" x2="327.8" y2="197.2"/><line x1="563.8" y1="197.2" x2="560.8" y2="197.2"/><line x1="324.8" y1="189.3" x2="327.8" y2="189.3"/><line x1="563.8" y1="189.3" x2="560.8" y2="189.3"/><line x1="324.8" y1="181.3" x2="327.8" y2="181.3"/><line x1="563.8" y1="181.3" x2="560.8" y2="181.3"/><line x1="324.8" y1="173.3" x2="327.8" y2="173.3"/><line x1="563.8" y1="173.3" x2="560.8" y2="173.3"/><line x1="324.8" y1="165.3" x2="329.3" y2="165.3"/><line x1="563.8" y1="165.3" x2="559.3" y2="165.3"/><line x1="324.8" y1="157.4" x2="327.8" y2="157.4"/><line x1="563.8" y1="157.4" x2="560.8" y2="157.4"/><line x1="324.8" y1="149.4" x2="327.8" y2="149.4"/><line x1="563.8" y1="149.4" x2="560.8" y2="149.4"/><line x1="324.8" y1="141.4" x2="327.8" y2="141.4"/><line x1="563.8" y1="141.4" x2="560.8" y2="141.4"/><line x1="324.8" y1="133.4" x2="327.8" y2="133.4"/><line x1="563.8" y1="133.4" x2="560.8" y2="133.4"/><line x1="324.8" y1="125.5" x2="329.3" y2="125.5"/><line x1="563.8" y1="125.5" x2="559.3" y2="125.5"/><line x1="324.8" y1="117.5" x2="327.8" y2="117.5"/><line x1="563.8" y1="117.5" x2="560.8" y2="117.5"/><line x1="324.8" y1="109.5" x2="327.8" y2="109.5"/><line x1="563.8" y1="109.5" x2="560.8" y2="109.5"/><line x1="324.8" y1="101.5" x2="327.8" y2="101.5"/><line x1="563.8" y1="101.5" x2="560.8" y2="101.5"/><line x1="324.8" y1="93.6" x2="327.8" y2="93.6"/><line x1="563.8" y1="93.6" x2="560.8" y2="93.6"/><line x1="324.8" y1="85.6" x2="329.3" y2="85.6"/><line x1="563.8" y1="85.6" x2="559.3" y2="85.6"/><line x1="324.8" y1="77.6" x2="327.8" y2="77.6"/><line x1="563.8" y1="77.6" x2="560.8" y2="77.6"/><line x1="324.8" y1="69.6" x2="327.8" y2="69.6"/><line x1="563.8" y1="69.6" x2="560.8" y2="69.6"/><line x1="324.8" y1="61.7" x2="327.8" y2="61.7"/><line x1="563.8" y1="61.7" x2="560.8" y2="61.7"/><line x1="324.8" y1="53.7" x2="327.8" y2="53.7"/><line x1="563.8" y1="53.7" x2="560.8" y2="53.7"/><line x1="324.8" y1="45.7" x2="329.3" y2="45.7"/><line x1="563.8" y1="45.7" x2="559.3" y2="45.7"/><line x1="324.8" y1="37.7" x2="327.8" y2="37.7"/><line x1="563.8" y1="37.7" x2="560.8" y2="37.7"/><line x1="324.8" y1="29.8" x2="327.8" y2="29.8"/><line x1="563.8" y1="29.8" x2="560.8" y2="29.8"/><line x1="324.8" y1="384.2" x2="327.8" y2="384.2"/><line x1="563.8" y1="384.2" x2="560.8" y2="384.2"/><line x1="324.8" y1="379.6" x2="327.8" y2="379.6"/><line x1="563.8" y1="379.6" x2="560.8" y2="379.6"/><line x1="324.8" y1="375.0" x2="327.8" y2="375.0"/><line x1="563.8" y1="375.0" x2="560.8" y2="375.0"/><line x1="324.8" y1="370.4" x2="327.8" y2="370.4"/><line x1="563.8" y1="370.4" x2="560.8" y2="370.4"/><line x1="324.8" y1="365.9" x2="329.3" y2="365.9"/><line x1="563.8" y1="365.9" x2="559.3" y2="365.9"/><line x1="324.8" y1="361.3" x2="327.8" y2="361.3"/><line x1="563.8" y1="361.3" x2="560.8" y2="361.3"/><line x1="324.8" y1="356.7" x2="327.8" y2="356.7"/><line x1="563.8" y1="356.7" x2="560.8" y2="356.7"/><line x1="324.8" y1="352.1" x2="327.8" y2="352.1"/><line x1="563.8" y1="352.1" x2="560.8" y2="352.1"/><line x1="324.8" y1="347.5" x2="327.8" y2="347.5"/><line x1="563.8" y1="347.5" x2="560.8" y2="347.5"/><line x1="324.8" y1="342.9" x2="329.3" y2="342.9"/><line x1="563.8" y1="342.9" x2="559.3" y2="342.9"/><line x1="324.8" y1="338.3" x2="327.8" y2="338.3"/><line x1="563.8" y1="338.3" x2="560.8" y2="338.3"/><line x1="324.8" y1="333.7" x2="327.8" y2="333.7"/><line x1="563.8" y1="333.7" x2="560.8" y2="333.7"/><line x1="324.8" y1="329.1" x2="327.8" y2="329.1"/><line x1="563.8" y1="329.1" x2="560.8" y2="329.1"/><line x1="324.8" y1="324.5" x2="327.8" y2="324.5"/><line x1="563.8" y1="324.5" x2="560.8" y2="324.5"/><line x1="324.8" y1="319.9" x2="329.3" y2="319.9"/><line x1="563.8" y1="319.9" x2="559.3" y2="319.9"/><line x1="324.8" y1="315.4" x2="327.8" y2="315.4"/><line x1="563.8" y1="315.4" x2="560.8" y2="315.4"/><line x1="324.8" y1="310.8" x2="327.8" y2="310.8"/><line x1="563.8" y1="310.8" x2="560.8" y2="310.8"/><line x1="324.8" y1="306.2" x2="327.8" y2="306.2"/><line x1="563.8" y1="306.2" x2="560.8" y2="306.2"/><line x1="324.8" y1="301.6" x2="327.8" y2="301.6"/><line x1="563.8" y1="301.6" x2="560.8" y2="301.6"/><line x1="324.8" y1="297.0" x2="329.3" y2="297.0"/><line x1="563.8" y1="297.0" x2="559.3" y2="297.0"/><line x1="324.8" y1="292.4" x2="327.8" y2="292.4"/><line x1="563.8" y1="292.4" x2="560.8" y2="292.4"/><line x1="324.8" y1="287.8" x2="327.8" y2="287.8"/><line x1="563.8" y1="287.8" x2="560.8" y2="287.8"/><line x1="324.8" y1="283.2" x2="327.8" y2="283.2"/><line x1="563.8" y1="283.2" x2="560.8" y2="283.2"/><line x1="324.8" y1="278.6" x2="327.8" y2="278.6"/><line x1="563.8" y1="278.6" x2="560.8" y2="278.6"/><line x1="324.8" y1="274.1" x2="329.3" y2="274.1"/><line x1="563.8" y1="274.1" x2="559.3" y2="274.1"/><line x1="324.8" y1="269.5" x2="327.8" y2="269.5"/><line x1="563.8" y1="269.5" x2="560.8" y2="269.5"/><line x1="324.8" y1="264.9" x2="327.8" y2="264.9"/><line x1="563.8" y1="264.9" x2="560.8" y2="264.9"/><line x1="324.8" y1="260.3" x2="327.8" y2="260.3"/><line x1="563.8" y1="260.3" x2="560.8" y2="260.3"/><line x1="324.8" y1="255.7" x2="327.8" y2="255.7"/><line x1="563.8" y1="255.7" x2="560.8" y2="255.7"/><line x1="324.8" y1="251.1" x2="329.3" y2="251.1"/><line x1="563.8" y1="251.1" x2="559.3" y2="251.1"/><line x1="324.8" y1="246.5" x2="327.8" y2="246.5"/><line x1="563.8" y1="246.5" x2="560.8" y2="246.5"/><line x1="324.8" y1="241.9" x2="327.8" y2="241.9"/><line x1="563.8" y1="241.9" x2="560.8" y2="241.9"/><line x1="324.8" y1="237.3" x2="327.8" y2="237.3"/><line x1="563.8" y1="237.3" x2="560.8" y2="237.3"/><line x1="324.8" y1="232.7" x2="327.8" y2="232.7"/><line x1="563.8" y1="232.7" x2="560.8" y2="232.7"/><line x1="324.8" y1="228.1" x2="329.3" y2="228.1"/><line x1="563.8" y1="228.1" x2="559.3" y2="228.1"/><line x1="324.8" y1="223.6" x2="327.8" y2="223.6"/><line x1="563.8" y1="223.6" x2="560.8" y2="223.6"/><line x1="324.8" y1="219.0" x2="327.8" y2="219.0"/><line x1="563.8" y1="219.0" x2="560.8" y2="219.0"/><line x1="324.8" y1="214.4" x2="327.8" y2="214.4"/><line x1="563.8" y1="214.4" x2="560.8" y2="214.4"/><line x1="324.8" y1="209.8" x2="327.8" y2="209.8"/><line x1="563.8" y1="209.8" x2="560.8" y2="209.8"/><line x1="71.7" y1="21.8" x2="71.7" y2="24.8"/><line x1="71.7" y1="205.2" x2="71.7" y2="202.2"/><line x1="86.6" y1="21.8" x2="86.6" y2="24.8"/><line x1="86.6" y1="205.2" x2="86.6" y2="202.2"/><line x1="101.6" y1="21.8" x2="101.6" y2="24.8"/><line x1="101.6" y1="205.2" x2="101.6" y2="202.2"/><line x1="116.6" y1="21.8" x2="116.6" y2="26.3"/><line x1="116.6" y1="205.2" x2="116.6" y2="200.7"/><line x1="131.5" y1="21.8" x2="131.5" y2="24.8"/><line x1="131.5" y1="205.2" x2="131.5" y2="202.2"/><line x1="146.5" y1="21.8" x2="146.5" y2="24.8"/><line x1="146.5" y1="205.2" x2="146.5" y2="202.2"/><line x1="161.5" y1="21.8" x2="161.5" y2="24.8"/><line x1="161.5" y1="205.2" x2="161.5" y2="202.2"/><line x1="176.4" y1="21.8" x2="176.4" y2="26.3"/><line x1="176.4" y1="205.2" x2="176.4" y2="200.7"/><line x1="191.4" y1="21.8" x2="191.4" y2="24.8"/><line x1="191.4" y1="205.2" x2="191.4" y2="202.2"/><line x1="206.4" y1="21.8" x2="206.4" y2="24.8"/><line x1="206.4" y1="205.2" x2="206.4" y2="202.2"/><line x1="221.4" y1="21.8" x2="221.4" y2="24.8"/><line x1="221.4" y1="205.2" x2="221.4" y2="202.2"/><line x1="236.3" y1="21.8" x2="236.3" y2="26.3"/><line x1="236.3" y1="205.2" x2="236.3" y2="200.7"/><line x1="251.3" y1="21.8" x2="251.3" y2="24.8"/><line x1="251.3" y1="205.2" x2="251.3" y2="202.2"/><line x1="266.3" y1="21.8" x2="266.3" y2="24.8"/><line x1="266.3" y1="205.2" x2="266.3" y2="202.2"/><line x1="281.2" y1="21.8" x2="281.2" y2="24.8"/><line x1="281.2" y1="205.2" x2="281.2" y2="202.2"/><line x1="71.7" y1="205.2" x2="71.7" y2="208.2"/><line x1="71.7" y1="388.8" x2="71.7" y2="385.8"/><line x1="86.6" y1="205.2" x2="86.6" y2="208.2"/><line x1="86.6" y1="388.8" x2="86.6" y2="385.8"/><line x1="101.6" y1="205.2" x2="101.6" y2="208.2"/><line x1="101.6" y1="388.8" x2="101.6" y2="385.8"/><line x1="116.6" y1="205.2" x2="116.6" y2="209.7"/><line x1="116.6" y1="388.8" x2="116.6" y2="384.3"/><line x1="131.5" y1="205.2" x2="131.5" y2="208.2"/><line x1="131.5" y1="388.8" x2="131.5" y2="385.8"/><line x1="146.5" y1="205.2" x2="146.5" y2="208.2"/><line x1="146.5" y1="388.8" x2="146.5" y2="385.8"/><line x1="161.5" y1="205.2" x2="161.5" y2="208.2"/><line x1="161.5" y1="388.8" x2="161.5" y2="385.8"/><line x1="176.4" y1="205.2" x2="176.4" y2="209.7"/><line x1="176.4" y1="388.8" x2="176.4" y2="384.3"/><line x1="191.4" y1="205.2" x2="191.4" y2="208.2"/><line x1="191.4" y1="388.8" x2="191.4" y2="385.8"/><line x1="206.4" y1="205.2" x2="206.4" y2="208.2"/><line x1="206.4" y1="388.8" x2="206.4" y2="385.8"/><line x1="221.4" y1="205.2" x2="221.4" y2="208.2"/><line x1="221.4" y1="388.8" x2="221.4" y2="385.8"/><line x1="236.3" y1="205.2" x2="236.3" y2="209.7"/><line x1="236.3" y1="388.8" x2="236.3" y2="384.3"/><line x1="251.3" y1="205.2" x2="251.3" y2="208.2"/><line x1="251.3" y1="388.8" x2="251.3" y2="385.8"/><line x1="266.3" y1="205.2" x2="266.3" y2="208.2"/><line x1="266.3" y1="388.8" x2="266.3" y2="385.8"/><line x1="281.2" y1="205.2" x2="281.2" y2="208.2"/><line x1="281.2" y1="388.8" x2="281.2" y2="385.8"/><line x1="339.7" y1="21.8" x2="339.7" y2="24.8"/><line x1="339.7" y1="205.2" x2="339.7" y2="202.2"/><line x1="354.7" y1="21.8" x2="354.7" y2="24.8"/><line x1="354.7" y1="205.2" x2="354.7" y2="202.2"/><line x1="369.6" y1="21.8" x2="369.6" y2="24.8"/><line x1="369.6" y1="205.2" x2="369.6" y2="202.2"/><line x1="384.6" y1="21.8" x2="384.6" y2="26.3"/><line x1="384.6" y1="205.2" x2="384.6" y2="200.7"/><line x1="399.5" y1="21.8" x2="399.5" y2="24.8"/><line x1="399.5" y1="205.2" x2="399.5" y2="202.2"/><line x1="414.4" y1="21.8" x2="414.4" y2="24.8"/><line x1="414.4" y1="205.2" x2="414.4" y2="202.2"/><line x1="429.4" y1="21.8" x2="429.4" y2="24.8"/><line x1="429.4" y1="205.2" x2="429.4" y2="202.2"/><line x1="444.3" y1="21.8" x2="444.3" y2="26.3"/><line x1="444.3" y1="205.2" x2="444.3" y2="200.7"/><line x1="459.2" y1="21.8" x2="459.2" y2="24.8"/><line x1="459.2" y1="205.2" x2="459.2" y2="202.2"/><line x1="474.2" y1="21.8" x2="474.2" y2="24.8"/><line x1="474.2" y1="205.2" x2="474.2" y2="202.2"/><line x1="489.1" y1="21.8" x2="489.1" y2="24.8"/><line x1="489.1" y1="205.2" x2="489.1" y2="202.2"/><line x1="504.0" y1="21.8" x2="504.0" y2="26.3"/><line x1="504.0" y1="205.2" x2="504.0" y2="200.7"/><line x1="519.0" y1="21.8" x2="519.0" y2="24.8"/><line x1="519.0" y1="205.2" x2="519.0" y2="202.2"/><line x1="533.9" y1="21.8" x2="533.9" y2="24.8"/><line x1="533.9" y1="205.2" x2="533.9" y2="202.2"/><line x1="548.9" y1="21.8" x2="548.9" y2="24.8"/><line x1="548.9" y1="205.2" x2="548.9" y2="202.2"/><line x1="339.7" y1="205.2" x2="339.7" y2="208.2"/><line x1="339.7" y1="388.8" x2="339.7" y2="385.8"/><line x1="354.7" y1="205.2" x2="354.7" y2="208.2"/><line x1="354.7" y1="388.8" x2="354.7" y2="385.8"/><line x1="369.6" y1="205.2" x2="369.6" y2="208.2"/><line x1="369.6" y1="388.8" x2="369.6" y2="385.8"/><line x1="384.6" y1="205.2" x2="384.6" y2="209.7"/><line x1="384.6" y1="388.8" x2="384.6" y2="384.3"/><line x1="399.5" y1="205.2" x2="399.5" y2="208.2"/><line x1="399.5" y1="388.8" x2="399.5" y2="385.8"/><line x1="414.4" y1="205.2" x2="414.4" y2="208.2"/><line x1="414.4" y1="388.8" x2="414.4" y2="385.8"/><line x1="429.4" y1="205.2" x2="429.4" y2="208.2"/><line x1="429.4" y1="388.8" x2="429.4" y2="385.8"/><line x1="444.3" y1="205.2" x2="444.3" y2="209.7"/><line x1="444.3" y1="388.8" x2="444.3" y2="384.3"/><line x1="459.2" y1="205.2" x2="459.2" y2="208.2"/><line x1="459.2" y1="388.8" x2="459.2" y2="385.8"/><line x1="474.2" y1="205.2" x2="474.2" y2="208.2"/><line x1="474.2" y1="388.8" x2="474.2" y2="385.8"/><line x1="489.1" y1="205.2" x2="489.1" y2="208.2"/><line x1="489.1" y1="388.8" x2="489.1" y2="385.8"/><line x1="504.0" y1="205.2" x2="504.0" y2="209.7"/><line x1="504.0" y1="388.8" x2="504.0" y2="384.3"/><line x1="519.0" y1="205.2" x2="519.0" y2="208.2"/><line x1="519.0" y1="388.8" x2="519.0" y2="385.8"/><line x1="533.9" y1="205.2" x2="533.9" y2="208.2"/><line x1="533.9" y1="388.8" x2="533.9" y2="385.8"/><line x1="548.9" y1="205.2" x2="548.9" y2="208.2"/><line x1="548.9" y1="388.8" x2="548.9" y2="385.8"/></g>
<g fill="none" stroke="#000" stroke-width="1.5"><rect x="56.7" y="21.8" width="239.5" height="367.0"/><line x1="56.7" y1="205.2" x2="296.2" y2="205.2"/><rect x="324.8" y="21.8" width="239.0" height="367.0"/><line x1="324.8" y1="205.2" x2="563.8" y2="205.2"/></g>
<rect x="67.1" y="147.1" width="120.5" height="48.6" rx="2" ry="2" fill="none" stroke="#000" stroke-opacity="0.07" stroke-width="1.2"/><rect x="66.4" y="146.4" width="120.5" height="48.6" rx="2" ry="2" fill="#fff" fill-opacity="0.8" stroke="#cdcdcd" stroke-width="1"/><line x1="68.4" y1="152.9" x2="86.9" y2="152.9" stroke="#5cbd3f" stroke-width="2.2"/><text x="92.7" y="155.4" font-size="8">critic prediction</text><line x1="68.4" y1="164.6" x2="86.9" y2="164.6" stroke="#0d7b30" stroke-width="2.2"/><text x="92.7" y="167.1" font-size="8">reinforcement learning</text><line x1="68.4" y1="176.3" x2="86.9" y2="176.3" stroke="#feb40a" stroke-width="2.2"/><text x="92.7" y="178.8" font-size="8">regression-based: best</text><line x1="68.4" y1="188.0" x2="86.9" y2="188.0" stroke="#e15c46" stroke-width="2.2"/><text x="92.7" y="190.5" font-size="8">manual: best</text><rect x="335.0" y="173.3" width="101" height="25" rx="2" ry="2" fill="none" stroke="#000" stroke-opacity="0.07" stroke-width="1.2"/><rect x="334.3" y="172.6" width="101" height="25" rx="2" ry="2" fill="#fff" fill-opacity="0.8" stroke="#cdcdcd" stroke-width="1"/><line x1="336.3" y1="178.7" x2="354.8" y2="178.7" stroke="#0d7b30" stroke-width="2.2"/><text x="360.6" y="181.2" font-size="8">regression optimizer</text><line x1="336.3" y1="190.2" x2="354.8" y2="190.2" stroke="#feb40a" stroke-width="2.2"/><text x="360.6" y="192.7" font-size="8">manual: best</text><rect x="69.3" y="366.4" width="72" height="13.5" rx="2" ry="2" fill="none" stroke="#000" stroke-opacity="0.07" stroke-width="1.2"/><rect x="68.6" y="365.7" width="72" height="13.5" rx="2" ry="2" fill="#fff" fill-opacity="0.8" stroke="#cdcdcd" stroke-width="1"/><line x1="70.6" y1="371.5" x2="89.1" y2="371.5" stroke="#0d7b30" stroke-width="2.2"/><text x="94.9" y="374.0" font-size="8">policy mean</text>
<g font-weight="bold" font-size="13.6" stroke="#000" stroke-width="0.35">
<text style="stroke-width:0.4px" x="63.5" y="34.9">a</text><text style="stroke-width:0.4px" x="63.6" y="221.7">b</text><text style="stroke-width:0.4px" x="332.4" y="35.2">c</text><text style="stroke-width:0.4px" x="332.4" y="221.8">d</text>
</g>
<g font-weight="bold" font-size="10.6">
<text x="58" y="11.8">Reinforcement learning</text><text x="324.7" y="11.8">Supervised machine learning</text>
</g>
<g font-size="10.3"><text x="52.3" y="26.3" text-anchor="end">8.8</text><text x="52.3" y="63.0" text-anchor="end">8.6</text><text x="52.3" y="99.7" text-anchor="end">8.4</text><text x="52.3" y="136.3" text-anchor="end">8.2</text><text x="52.3" y="173.0" text-anchor="end">8.0</text><text x="52.3" y="209.7" text-anchor="end">4.0</text><text x="320.2" y="209.7" text-anchor="end">4.0</text><text x="52.3" y="255.6" text-anchor="end">2.0</text><text x="320.2" y="255.6" text-anchor="end">2.0</text><text x="52.3" y="301.5" text-anchor="end">0.0</text><text x="320.2" y="301.5" text-anchor="end">0.0</text><text x="52.3" y="347.4" text-anchor="end">-2.0</text><text x="320.2" y="347.4" text-anchor="end">-2.0</text><text x="52.3" y="393.3" text-anchor="end">-4.0</text><text x="320.2" y="393.3" text-anchor="end">-4.0</text><text x="320.2" y="50.2" text-anchor="end">8.5</text><text x="320.2" y="90.1" text-anchor="end">8.0</text><text x="320.2" y="130.0" text-anchor="end">7.5</text><text x="320.2" y="169.8" text-anchor="end">7.0</text><text x="56.7" y="401.2" text-anchor="middle">0</text><text x="324.8" y="401.2" text-anchor="middle">0</text><text x="116.6" y="401.2" text-anchor="middle">40</text><text x="384.6" y="401.2" text-anchor="middle">40</text><text x="176.4" y="401.2" text-anchor="middle">80</text><text x="444.3" y="401.2" text-anchor="middle">80</text><text x="236.3" y="401.2" text-anchor="middle">120</text><text x="504.0" y="401.2" text-anchor="middle">120</text><text x="296.2" y="401.2" text-anchor="middle">160</text><text x="563.8" y="401.2" text-anchor="middle">160</text></g>
<g font-size="10.7">
<text x="176.5" y="417.2" text-anchor="middle">Run number</text><text x="444.9" y="417.2" text-anchor="middle">Run number</text>
<text text-anchor="middle" transform="translate(12.8,100.3) rotate(-90)">Value function</text>
<text text-anchor="middle" transform="translate(28.7,99.9) rotate(-90)">Logarithmic atom number, log(N)</text>
<text text-anchor="middle" xml:space="preserve" transform="translate(12.8,298.2) rotate(-90)">Example control parameter,  A24</text>
<text text-anchor="middle" transform="translate(28.7,299) rotate(-90)">3D-MOT cooling set-freq., <tspan font-style="italic">f</tspan>-<tspan font-style="italic">f</tspan><tspan font-size="7.5" dy="2" font-style="italic">0</tspan><tspan dy="-2"> (MHz)</tspan></text>
</g>
</svg></body></html>
